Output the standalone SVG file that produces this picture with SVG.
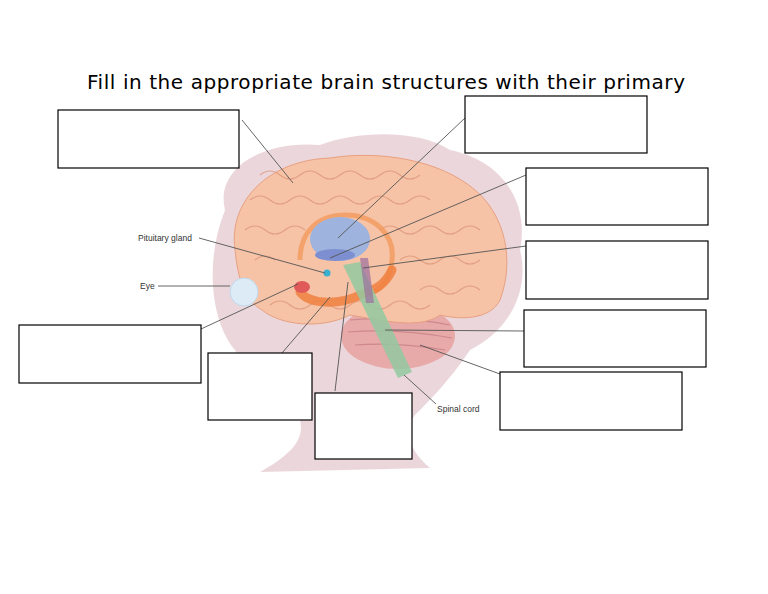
<svg xmlns="http://www.w3.org/2000/svg" width="768" height="594" viewBox="0 0 768 594">
<style>
.box{fill:#fff;stroke:#000;stroke-width:1.2}
.ln{stroke:#555;stroke-width:0.9;fill:none}
.lbl{font-family:"Liberation Sans",Arial,sans-serif;font-size:8.5px;fill:#333}
.gy{fill:none;stroke:#d98f72;stroke-width:1.2;opacity:.7}
</style>
<rect width="768" height="594" fill="#fff"/>
<text x="87" y="89" textLength="598" font-family="DejaVu Sans,sans-serif" font-size="20" fill="#000">Fill in the appropriate brain structures with their primary</text>
<g id="scene">
<path d="M225 210 C215 170 260 140 320 145 C360 130 420 130 450 150 C500 160 530 200 520 250 C530 290 510 330 470 350 C450 380 430 400 415 415 C400 435 415 455 430 468 L260 472 C290 455 305 440 300 420 C280 395 250 380 235 350 C210 320 205 260 225 210 Z" fill="#e6cdd2" opacity=".8"/>
<ellipse cx="398" cy="336" rx="57" ry="33" fill="#e8a9a9"/>
<path d="M350 320 Q398 315 450 325 M348 332 Q398 328 452 338 M355 345 Q398 342 445 350" fill="none" stroke="#c07a80" stroke-width="1.2" opacity=".7"/>
<path d="M235 250 C228 200 270 160 330 158 C380 150 440 160 475 190 C505 215 515 260 500 300 C490 320 460 320 440 315 C420 330 380 320 350 315 C320 330 280 325 262 310 C245 300 238 280 235 250 Z" fill="#f6c3a7" stroke="#e8a080" stroke-width="1"/>
<path d="M250 200 q10 -8 20 0 t20 0 t20 0 t20 0 t20 0 t20 0 t20 0 t20 0 t20 0 M245 230 q10 -8 20 0 t20 0 t20 0 M380 230 q10 -8 20 0 t20 0 t20 0 t20 0 t20 0 M260 175 q10 -8 20 0 t20 0 t20 0 t20 0 t20 0 t20 0 t20 0 t20 0 M400 260 q10 -8 20 0 t20 0 t20 0 t20 0 M255 260 q10 -8 20 0 M270 305 q10 -8 20 0 t20 0 t20 0 t20 0 t20 0 t20 0 t20 0 t20 0 M420 290 q10 -8 20 0 t20 0 t20 0" class="gy"/>
<path d="M300 260 C300 230 320 215 345 215 C375 215 395 235 392 260 C390 285 375 295 360 295" fill="none" stroke="#f29a5e" stroke-width="5" opacity=".8"/>
<path d="M300 292 C310 305 340 305 360 295 C375 290 385 285 392 270" fill="none" stroke="#f08040" stroke-width="9" stroke-linecap="round" opacity=".85"/>
<ellipse cx="302" cy="287" rx="8" ry="6" fill="#e05a5a"/>
<path d="M343 265 L360 262 L412 372 L398 378 Z" fill="#93c9a0" opacity=".85"/>
<path d="M360 258 l8 0 l6 45 l-8 0 Z" fill="#9c6fa0" opacity=".7"/>
<ellipse cx="340" cy="239" rx="30" ry="22" fill="#9eb3dd"/>
<ellipse cx="335" cy="255" rx="20" ry="6" fill="#7d8fd0"/>
<circle cx="327" cy="273" r="3.5" fill="#3ab0d0"/>
<circle cx="244" cy="292" r="14" fill="#dcebf6" stroke="#c0d8ea"/>
</g>
<g id="labels">
<text class="lbl" x="138" y="241">Pituitary gland</text>
<text class="lbl" x="140" y="289">Eye</text>
<text class="lbl" x="437" y="412">Spinal cord</text>
</g>
<g id="connectors">
<line class="ln" x1="242" y1="120" x2="293" y2="183"/>
<line class="ln" x1="465" y1="118" x2="338" y2="238"/>
<line class="ln" x1="526" y1="175" x2="330" y2="258"/>
<line class="ln" x1="526" y1="246" x2="363" y2="268"/>
<line class="ln" x1="524" y1="331" x2="385" y2="330"/>
<line class="ln" x1="500" y1="374" x2="420" y2="345"/>
<line class="ln" x1="201" y1="329" x2="298" y2="284"/>
<line class="ln" x1="282" y1="353" x2="330" y2="297"/>
<line class="ln" x1="335" y1="391" x2="348" y2="282"/>
<line class="ln" x1="199" y1="238" x2="325" y2="273"/>
<line class="ln" x1="158" y1="286" x2="230" y2="286"/>
<line class="ln" x1="404" y1="375" x2="436" y2="404"/>
</g>
<g id="box1"><rect class="box" x="58" y="110" width="181" height="58"/></g>
<g id="box2"><rect class="box" x="465" y="96" width="182" height="57"/></g>
<g id="box3"><rect class="box" x="526" y="168" width="182" height="57"/></g>
<g id="box4"><rect class="box" x="526" y="241" width="182" height="58"/></g>
<g id="box5"><rect class="box" x="524" y="310" width="182" height="57"/></g>
<g id="box6"><rect class="box" x="500" y="372" width="182" height="58"/></g>
<g id="box7"><rect class="box" x="19" y="325" width="182" height="58"/></g>
<g id="box8"><rect class="box" x="208" y="353" width="104" height="67"/></g>
<g id="box9"><rect class="box" x="315" y="393" width="97" height="66"/></g>
</svg>
